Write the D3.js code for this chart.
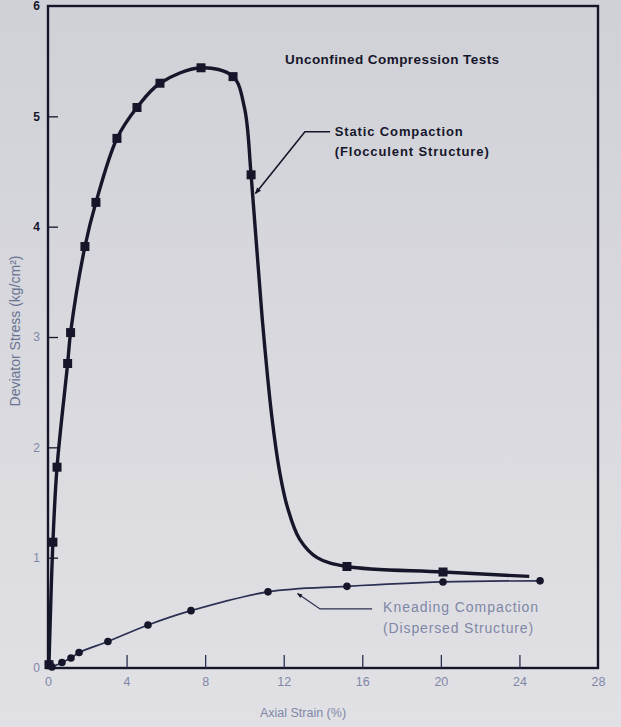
<!DOCTYPE html>
<html>
<head>
<meta charset="utf-8">
<script src="https://cdn.jsdelivr.net/npm/d3@7"></script>
<style>
body { margin: 0; background: #d8d9de; }
svg { display: block; }
text { font-family: "Liberation Sans", Arial, sans-serif; }
</style>
</head>
<body>
<svg width="621" height="727"></svg>
<script>
// static compaction (flocculent structure), square markers
var staticStrain = [0.05, 0.25, 0.46, 1.0, 1.15, 1.88, 2.44, 3.51, 4.53, 5.7, 7.79, 9.42, 10.34, 15.22, 20.11];
var staticStress = [0.03, 1.14, 1.82, 2.76, 3.04, 3.82, 4.22, 4.8, 5.08, 5.3, 5.44, 5.36, 4.47, 0.92, 0.87];
// points along the drawn curve without a marker
var staticCurveStrain = [10.0, 10.9, 11.4, 11.8, 12.2, 12.8, 13.7, 24.5];
var staticCurveStress = [5.08, 3.18, 2.27, 1.77, 1.45, 1.17, 1.0, 0.83];

// kneading compaction (dispersed structure), round markers
var kneadStrain = [0.2, 0.71, 1.17, 1.58, 3.05, 5.09, 7.28, 11.2, 15.22, 20.11, 25.05];
var kneadStress = [0.01, 0.05, 0.09, 0.14, 0.24, 0.39, 0.52, 0.69, 0.74, 0.78, 0.79];

var xTicks = [0, 4, 8, 12, 16, 20, 24, 28];
var yTicks = [0, 1, 2, 3, 4, 5, 6];

var svg = d3.select("svg"),
    width = +svg.attr("width"),
    height = +svg.attr("height");

var x = d3.scaleLinear().domain([0, 28]).range([48, 598]);
var y = d3.scaleLinear().domain([0, 6]).range([668, 6]);

var ink = "#16162a",
    navy = "#2b2f52",
    pale = "#7f87a6";

// paper
var defs = svg.append("defs");
var grad = defs.append("linearGradient")
    .attr("id", "paper").attr("x1", 0).attr("y1", 0).attr("x2", 0).attr("y2", 1);
grad.append("stop").attr("offset", "0").attr("stop-color", "#d0d1d7");
grad.append("stop").attr("offset", "1").attr("stop-color", "#e1e1e5");
svg.append("rect").attr("width", width).attr("height", height).attr("fill", "url(#paper)");

defs.append("marker")
    .attr("id", "tip").attr("viewBox", "0 0 10 10")
    .attr("refX", 9).attr("refY", 5)
    .attr("markerWidth", 5).attr("markerHeight", 4)
    .attr("orient", "auto")
  .append("path").attr("d", "M0,1L10,5L0,9z").attr("fill", ink);

// frame
svg.append("rect")
    .attr("x", x(0)).attr("y", y(6))
    .attr("width", x(28) - x(0)).attr("height", y(0) - y(6))
    .attr("fill", "none").attr("stroke", ink).attr("stroke-width", 2.4);

// axes
var gx = svg.append("g")
    .attr("transform", "translate(0," + y(0) + ")")
    .call(d3.axisBottom(x).tickValues(xTicks).tickFormat(d3.format("d"))
        .tickSizeInner(-13).tickSizeOuter(0).tickPadding(9));
gx.select(".domain").remove();
gx.selectAll(".tick line").attr("stroke", navy).attr("stroke-width", 1.3)
    .attr("display", function(d) { return d == 0 || d == 28 ? "none" : null; });
gx.selectAll(".tick text").attr("fill", pale).attr("font-size", 12.5)
    .attr("font-family", "Liberation Sans, Arial, sans-serif");

var gy = svg.append("g")
    .attr("transform", "translate(" + x(0) + ",0)")
    .call(d3.axisLeft(y).tickValues(yTicks).tickFormat(d3.format("d"))
        .tickSizeInner(-10).tickSizeOuter(0).tickPadding(8));
gy.select(".domain").remove();
gy.selectAll(".tick line").attr("stroke", ink).attr("stroke-width", 1.3)
    .attr("display", function(d) { return d == 0 || d == 6 ? "none" : null; });
gy.selectAll(".tick text")
    .attr("fill", function(d) { return d >= 4 ? ink : pale; })
    .attr("font-weight", function(d) { return d >= 4 ? "bold" : null; })
    .attr("font-size", 12)
    .attr("font-family", "Liberation Sans, Arial, sans-serif");

// axis titles
svg.append("text")
    .attr("x", 303).attr("y", 717)
    .attr("text-anchor", "middle")
    .attr("fill", pale).attr("font-size", 12.5)
    .text("Axial Strain (%)");

svg.append("text")
    .attr("transform", "translate(20,331) rotate(-90)")
    .attr("text-anchor", "middle")
    .attr("fill", "#6a7394").attr("font-size", 14)
    .text("Deviator Stress (kg/cm²)");

// series
var staticPts = staticStrain.map(function(d, i) { return [d, staticStress[i]]; });
var staticLinePts = staticPts.concat(staticCurveStrain.map(function(d, i) { return [d, staticCurveStress[i]]; }))
    .sort(function(a, b) { return a[0] - b[0]; });
var kneadPts = kneadStrain.map(function(d, i) { return [d, kneadStress[i]]; });

var line = d3.line()
    .x(function(d) { return x(d[0]); })
    .y(function(d) { return y(d[1]); })
    .curve(d3.curveCatmullRom.alpha(0.5));

svg.append("path")
    .attr("d", line([[0, 0]].concat(kneadPts)))
    .attr("fill", "none").attr("stroke", navy).attr("stroke-width", 1.7);

svg.append("path")
    .attr("d", line(staticLinePts))
    .attr("fill", "none").attr("stroke", ink).attr("stroke-width", 3.4);

svg.append("g").selectAll("rect")
    .data(staticPts)
    .enter()
    .append("rect")
    .attr("x", function(d) { return x(d[0]) - 4.5; })
    .attr("y", function(d) { return y(d[1]) - 4.5; })
    .attr("width", 9).attr("height", 9)
    .attr("fill", ink);

svg.append("g").selectAll("circle")
    .data(kneadPts)
    .enter()
    .append("circle")
    .attr("cx", function(d) { return x(d[0]); })
    .attr("cy", function(d) { return y(d[1]); })
    .attr("r", 3.8)
    .attr("fill", ink);

// title and annotations
svg.append("text")
    .attr("x", x(12.07)).attr("y", y(5.47))
    .attr("fill", ink).attr("font-size", 13.5).attr("font-weight", "bold")
    .attr("textLength", 214)
    .text("Unconfined Compression Tests");

svg.append("path")
    .attr("d", d3.line()([[x(14.36), y(4.86)], [x(13.08), y(4.86)], [x(10.56), y(4.3)]]))
    .attr("fill", "none").attr("stroke", ink).attr("stroke-width", 1.6)
    .attr("marker-end", "url(#tip)");

svg.append("text")
    .attr("x", x(14.6)).attr("y", y(4.82))
    .attr("fill", ink).attr("font-size", 13).attr("font-weight", "bold")
    .attr("textLength", 128)
    .text("Static Compaction");
svg.append("text")
    .attr("x", x(14.6)).attr("y", y(4.64))
    .attr("fill", ink).attr("font-size", 13).attr("font-weight", "bold")
    .attr("textLength", 154)
    .text("(Flocculent Structure)");

svg.append("path")
    .attr("d", d3.line()([[x(16.5), y(0.535)], [x(13.85), y(0.535)], [x(12.7), y(0.675)]]))
    .attr("fill", "none").attr("stroke", navy).attr("stroke-width", 1.3)
    .attr("marker-end", "url(#tip)");

svg.append("text")
    .attr("x", x(17.06)).attr("y", y(0.505))
    .attr("fill", pale).attr("font-size", 14)
    .attr("textLength", 155)
    .text("Kneading Compaction");
svg.append("text")
    .attr("x", x(17.06)).attr("y", y(0.315))
    .attr("fill", pale).attr("font-size", 14)
    .attr("textLength", 150)
    .text("(Dispersed Structure)");
</script>
</body>
</html>
